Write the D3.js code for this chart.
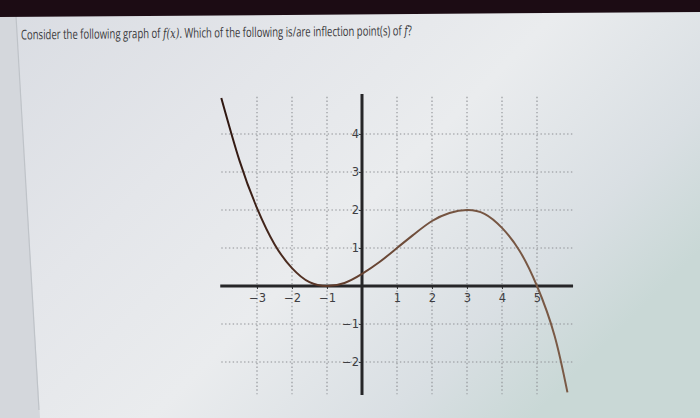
<!DOCTYPE html>
<html><head><meta charset="utf-8">
<script src="https://cdn.jsdelivr.net/npm/d3@7"></script>
<style>html,body{margin:0;padding:0;background:#dfe2e6;overflow:hidden}</style>
</head><body>
<svg id="c" width="700" height="418"></svg>
<script>
// ---- data ----
const curveX = [-4.02, -3.5, -3, -2.5, -2, -1.5, -1, -0.5, 0, 0.5, 1, 1.5, 2, 2.5, 3, 3.5, 4, 4.5, 5, 5.5, 5.87];
const curveY = [4.95, 3.3, 2.05, 1.1, 0.47, 0.1, 0.0, 0.08, 0.32, 0.63, 1.0, 1.37, 1.71, 1.92, 2.0, 1.9, 1.53, 0.93, 0.0, -1.3, -2.8];
const xTicks = [-3, -2, -1, 1, 2, 3, 4, 5];
const yTicks = [-2, -1, 1, 2, 3, 4];
const xTickLabels = ["−3", "−2", "−1", "1", "2", "3", "4", "5"];
const yTickLabels = ["−2", "−1", "1", "2", "3", "4"];
const question = ["Consider the following graph of ", "f", "(x)", ". Which of the following is/are inflection point(s) of ", "f", "?"];

const svg = d3.select("#c");
const defs = svg.append("defs");

// background
const bg = defs.append("linearGradient").attr("id","bg").attr("x1","0").attr("y1","0").attr("x2","1").attr("y2","0.6");
bg.append("stop").attr("offset","0").attr("stop-color","#d9dce2");
bg.append("stop").attr("offset","0.35").attr("stop-color","#e4e6ea");
bg.append("stop").attr("offset","0.6").attr("stop-color","#eaecee");
bg.append("stop").attr("offset","0.85").attr("stop-color","#d9dfe3");
bg.append("stop").attr("offset","1").attr("stop-color","#c9d8d6");
svg.append("rect").attr("width",700).attr("height",418).attr("fill","url(#bg)");
// left strip
svg.append("path").attr("d","M0,14 L16,14 L40,418 L0,418 Z").attr("fill","#d4d7dc");
svg.append("path").attr("d","M16,16 L39,410").attr("stroke","#bfc3c8").attr("stroke-width",1.2);
// top dark band
svg.append("path").attr("d","M0,0 L700,0 L700,12 L0,17 Z").attr("fill","#1c0c14");

// title
const tg = svg.append("g");
const t = tg.append("text").attr("x",0).attr("y",0)
  .attr("font-family","'Open Sans', sans-serif").attr("font-size",13.5)
  .attr("fill","#3a3a3c");
question.forEach(s => {
  const ts = t.append("tspan").text(s);
  if (s === "f" || s === "(x)") ts.attr("font-family","'DejaVu Serif', serif").attr("font-style","italic");
});
const tw = t.node().getComputedTextLength();
tg.attr("transform", `translate(21,39.5) rotate(-0.62) scale(${391 / tw},1)`);

// scales
const x = d3.scaleLinear().domain([-4, 6]).range([222, 572]);
const y = d3.scaleLinear().domain([-2, 4]).range([362, 134]);

const g = svg.append("g");
// grid
g.selectAll(".vg").data(xTicks).join("line")
  .attr("x1", d => x(d)).attr("x2", d => x(d))
  .attr("y1", y(4.98)).attr("y2", y(-2.85))
  .attr("stroke","#8e9094").attr("stroke-width",1.1).attr("stroke-dasharray","1.4,2.4");
g.selectAll(".hg").data(yTicks).join("line")
  .attr("y1", d => y(d)).attr("y2", d => y(d))
  .attr("x1", x(-4.02)).attr("x2", x(6.05))
  .attr("stroke","#8e9094").attr("stroke-width",1.1).attr("stroke-dasharray","1.4,2.4");

// axes
const xAxis = d3.axisBottom(x).tickValues(xTicks).tickSize(3)
  .tickFormat((d,i) => xTickLabels[i]);
const gx = g.append("g").attr("transform", `translate(0,${y(0)})`).call(xAxis);
gx.select(".domain").remove();
gx.selectAll("line").attr("stroke","#3a3a3a");
gx.selectAll("text").attr("font-family","'DejaVu Sans', sans-serif").attr("font-size",11.5)
  .attr("fill","#3e3e42").attr("dy","0.9em");

const yAxis = d3.axisLeft(y).tickValues(yTicks).tickSize(3)
  .tickFormat((d,i) => yTickLabels[i]);
const gy = g.append("g").attr("transform", `translate(${x(0)},0)`).call(yAxis);
gy.select(".domain").remove();
gy.selectAll("line").attr("stroke","#3a3a3a");
gy.selectAll("text").attr("font-family","'DejaVu Sans', sans-serif").attr("font-size",11.5)
  .attr("fill","#3e3e42").attr("x",-3);

g.append("line").attr("x1", x(-4.05)).attr("x2", x(6.03)).attr("y1", y(0)).attr("y2", y(0))
  .attr("stroke","#262628").attr("stroke-width",3);
g.append("line").attr("x1", x(0)).attr("x2", x(0)).attr("y1", y(5.05)).attr("y2", y(-2.87))
  .attr("stroke","#262628").attr("stroke-width",3);

// curve
const cg = defs.append("linearGradient").attr("id","cg").attr("gradientUnits","userSpaceOnUse")
  .attr("x1", x(-4)).attr("x2", x(6)).attr("y1",0).attr("y2",0);
cg.append("stop").attr("offset","0").attr("stop-color","#2e1610");
cg.append("stop").attr("offset","0.3").attr("stop-color","#5e3a2a");
cg.append("stop").attr("offset","0.6").attr("stop-color","#745340");
cg.append("stop").attr("offset","1").attr("stop-color","#7a5a46");
const line = d3.line().x(d => x(d[0])).y(d => y(d[1])).curve(d3.curveNatural);
g.append("path").datum(curveX.map((v,i) => [v, curveY[i]]))
  .attr("d", line).attr("fill","none").attr("stroke","url(#cg)").attr("stroke-width",2);
</script>
</body></html>
